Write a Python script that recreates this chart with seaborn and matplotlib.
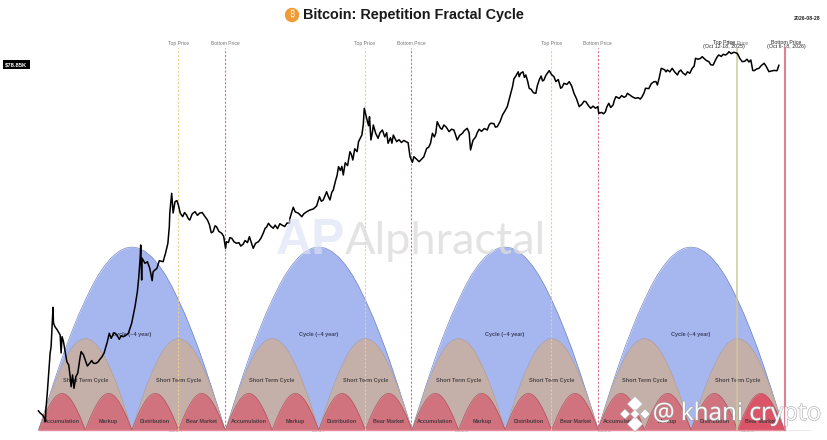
import numpy as np
import pandas as pd
import matplotlib.pyplot as plt
import matplotlib.patheffects as pe
import seaborn as sns

years = [2011.11,2011.15,2011.20,2011.24,2011.26,2011.27,2011.30,2011.34,2011.36,2011.38,2011.40,2011.42,2011.43,2011.46,2011.51,2011.57,2011.59,2011.61,2011.64,2011.68,
 2011.71,2011.75,2011.78,2011.80,2011.83,2011.86,2011.90,2011.94,2011.99,2012.01,2012.06,2012.11,2012.14,2012.20,2012.27,2012.37,2012.44,2012.49,2012.53,2012.56,
 2012.60,2012.64,2012.70,2012.76,2012.81,2012.89,2013.00,2013.07,2013.14,2013.19,2013.22,2013.25,2013.26,2013.28,2013.29,2013.35,2013.40,2013.45,2013.50,2013.52,
 2013.60,2013.65,2013.73,2013.78,2013.83,2013.86,2013.87,2013.91,2013.94,2013.98,2014.05,2014.14,2014.22,2014.29,2014.40,2014.50,2014.61,2014.66,2014.78,2014.85,
 2014.96,2015.04,2015.06,2015.17,2015.27,2015.41,2015.54,2015.62,2015.73,2015.83,2015.87,2015.94,2016.04,2016.22,2016.38,2016.39,2016.46,2016.57,2016.64,2016.81,
 2016.95,2017.01,2017.09,2017.16,2017.23,2017.30,2017.41,2017.51,2017.65,2017.71,2017.83,2017.90,2017.95,2018.00,2018.09,2018.14,2018.24,2018.33,2018.45,2018.56,
 2018.63,2018.87,2018.91,2018.96,2018.99,2019.10,2019.20,2019.26,2019.34,2019.38,2019.45,2019.48,2019.55,2019.62,2019.73,2019.83,2019.90,2020.01,2020.11,2020.18,
 2020.29,2020.36,2020.53,2020.60,2020.74,2020.85,2020.95,2021.06,2021.13,2021.23,2021.34,2021.41,2021.55,2021.62,2021.72,2021.83,2021.93,2022.07,2022.14,2022.25,
 2022.35,2022.46,2022.60,2022.70,2022.85,2022.87,2023.01,2023.08,2023.17,2023.23,2023.40,2023.47,2023.64,2023.78,2023.85,2024.03,2024.10,2024.18,2024.31,2024.41,
 2024.52,2024.59,2024.69,2024.83,2024.90,2025.04,2025.18,2025.27,2025.39,2025.53,2025.60,2025.74,2025.88,2026.06,2026.13,2026.23,2026.34,2026.44,2026.61,2026.65]
log_price = [-0.041,-0.074,-0.103,-0.145,-0.198,-0.031,0.212,0.587,0.783,0.873,1.159,1.436,1.212,1.159,1.112,1.040,0.783,1.016,0.944,0.783,
 0.659,0.612,0.445,0.302,0.469,0.279,0.445,0.497,0.730,0.802,0.755,0.659,0.597,0.645,0.636,0.659,0.722,0.779,0.873,0.944,
 1.064,0.993,1.073,1.040,0.979,1.016,1.064,1.207,1.445,1.659,1.873,2.159,2.326,1.826,2.136,2.064,2.087,1.993,1.816,1.945,
 1.993,2.102,2.087,2.207,2.350,2.587,2.783,3.064,2.783,2.945,2.897,2.730,2.755,2.683,2.802,2.783,2.730,2.683,2.516,2.587,
 2.493,2.279,2.373,2.422,2.350,2.340,2.445,2.279,2.373,2.493,2.565,2.636,2.565,2.612,2.636,2.707,2.865,2.779,2.730,2.826,
 2.883,3.016,2.969,3.087,2.969,3.112,3.445,3.326,3.659,3.540,3.802,3.897,4.279,4.136,3.826,4.040,3.850,3.969,3.779,3.897,
 3.802,3.787,3.587,3.507,3.587,3.516,3.587,3.707,3.779,3.922,3.922,4.087,3.993,4.040,3.945,3.969,3.826,3.922,3.993,3.683,
 3.873,3.979,3.969,4.065,4.016,4.183,4.302,4.587,4.740,4.779,4.755,4.565,4.493,4.683,4.683,4.816,4.730,4.565,4.636,4.659,
 4.493,4.302,4.373,4.279,4.302,4.207,4.230,4.350,4.326,4.445,4.436,4.493,4.422,4.445,4.565,4.659,4.612,4.850,4.826,4.850,
 4.755,4.826,4.755,4.850,4.993,5.016,4.945,4.897,5.040,5.040,5.087,5.073,4.945,4.969,4.816,4.850,4.922,4.802,4.816,4.897]

# smaller wiggles between the main turning points
wiggle_points = [(2012.23,.675),(2012.32,.635),(2012.40,.69),(2012.85,1.03),(2012.94,1.03),
 (2014.02,2.96),(2014.09,2.78),(2014.18,2.79),(2014.26,2.70),(2014.34,2.77),(2014.45,2.75),(2014.55,2.79),(2014.70,2.62),(2014.74,2.50),(2014.82,2.60),(2014.90,2.52),(2015.00,2.45),
 (2015.10,2.36),(2015.13,2.43),(2015.22,2.37),(2015.32,2.36),(2015.36,2.31),(2015.45,2.39),(2015.50,2.36),(2015.58,2.36),(2015.67,2.35),(2015.78,2.42),(2015.90,2.58),(2015.98,2.60),
 (2016.08,2.61),(2016.13,2.56),(2016.18,2.63),(2016.28,2.59),(2016.33,2.64),(2016.50,2.80),(2016.68,2.77),(2016.74,2.80),(2016.88,2.84),
 (2017.05,2.95),(2017.19,3.03),(2017.27,3.08),(2017.35,3.25),(2017.38,3.32),(2017.45,3.39),(2017.48,3.45),(2017.55,3.50),(2017.60,3.46),(2017.68,3.62),(2017.75,3.70),(2017.80,3.66),(2017.93,4.05),
 (2018.04,4.03),(2018.06,4.16),(2018.12,3.93),(2018.19,3.92),(2018.28,3.93),(2018.38,3.87),(2018.42,3.93),(2018.50,3.86),(2018.53,3.78),(2018.60,3.84),(2018.68,3.83),(2018.73,3.79),(2018.78,3.82),(2018.83,3.80),
 (2019.05,3.55),(2019.15,3.55),(2019.30,3.72),(2019.42,3.87),(2019.52,4.03),(2019.58,3.98),(2019.67,4.01),(2019.78,3.98),(2019.86,3.91),(2019.95,3.89),
 (2020.05,3.96),(2020.15,3.93),(2020.23,3.82),(2020.32,3.93),(2020.41,3.95),(2020.47,3.99),(2020.57,4.04),(2020.67,4.06),(2020.70,4.01),(2020.80,4.09),(2020.90,4.24),
 (2021.00,4.43),(2021.09,4.70),(2021.18,4.80),(2021.20,4.73),(2021.28,4.80),(2021.31,4.72),(2021.38,4.66),(2021.45,4.55),(2021.50,4.50),(2021.58,4.60),(2021.66,4.74),(2021.69,4.67),(2021.76,4.75),(2021.88,4.76),(2021.97,4.66),
 (2022.02,4.69),(2022.10,4.58),(2022.20,4.62),(2022.30,4.60),(2022.40,4.42),(2022.52,4.34),(2022.56,4.38),(2022.65,4.32),(2022.75,4.31),(2022.80,4.28),(2022.93,4.22),(2022.97,4.20),
 (2023.04,4.30),(2023.12,4.29),(2023.20,4.40),(2023.30,4.42),(2023.35,4.46),(2023.44,4.45),(2023.52,4.47),(2023.58,4.44),(2023.70,4.43),(2023.74,4.41),(2023.82,4.50),(2023.92,4.56),(2023.97,4.63),
 (2024.07,4.66),(2024.14,4.72),(2024.25,4.83),(2024.28,4.80),(2024.36,4.80),(2024.46,4.80),(2024.55,4.80),(2024.64,4.78),(2024.73,4.80),(2024.78,4.78),(2024.87,4.88),(2024.95,4.98),
 (2025.00,4.99),(2025.08,4.99),(2025.13,4.96),(2025.22,4.90),(2025.32,4.97),(2025.36,5.02),(2025.44,5.02),(2025.48,5.05),(2025.57,5.06),(2025.65,5.06),(2025.70,5.08),(2025.78,5.06),(2025.83,4.99),(2025.93,4.95),(2025.98,4.98),
 (2026.02,4.94),(2026.10,4.82),(2026.18,4.84),(2026.28,4.89),(2026.38,4.88),(2026.41,4.84),(2026.48,4.81),(2026.55,4.82)]

cycle_starts = [2011.12, 2015.04, 2018.95, 2022.85]
cycle_length = 3.91
top_years = [2014.05, 2017.96, 2021.87, 2025.78]
bottom_years = [2015.03, 2018.94, 2022.85, 2026.78]
phase_names = ['Accumulation', 'Markup', 'Distribution', 'Bear Market']
year_ticks = [2014, 2017, 2020, 2023, 2026]

arch_half = [0, .115, .23, .34, .445, .54, .63, .71, .785, .85, .903, .945, .975, .994, 1]
arch_shape = np.array(arch_half + arch_half[-2::-1])
arch_t = np.linspace(0, 1, len(arch_shape))

sns.set_theme(style='white')
plt.rcParams['font.family'] = ['Liberation Sans', 'DejaVu Sans']

fig = plt.figure(figsize=(8.28, 4.40), dpi=100)
ax = fig.add_axes([0, 0, 1, 1])
ax.set_xlim(2010.308, 2027.679)
ax.set_ylim(-0.0546, 2.35)


def arch(start, length, height, color, edge):
    x = start + arch_t * length
    ax.fill_between(x, 0, arch_shape * height, color=color, lw=0, zorder=2)
    ax.plot(x, arch_shape * height, color=edge, lw=0.5, zorder=2)


for c, start in enumerate(cycle_starts):
    q = cycle_length / 4
    arch(start, cycle_length, 1.0, '#A6B7EF', '#7485C4')
    arch(start, 2 * q, 0.5, '#C4AFA9', '#B39F98')
    arch(start + 2 * q, 2 * q, 0.5, '#C4AFA9', '#B39F98')
    for i, name in enumerate(phase_names):
        last = c == 3 and i == 3
        arch(start + i * q, q, 0.2, '#DB5468' if last else '#D0737F', '#B4505F')
        ax.text(start + (i + .5) * q, 0.049, name, ha='center', va='center', fontsize=3.9,
                fontweight='bold', color='#4a3a3e', zorder=3)
    ax.text(start + q, 0.273, 'Short Term Cycle', ha='center', va='center', fontsize=4,
            fontweight='bold', color='#4f4a4a', zorder=3)
    ax.text(start + 3 * q, 0.273, 'Short Term Cycle', ha='center', va='center', fontsize=4,
            fontweight='bold', color='#4f4a4a', zorder=3)
    ax.text(start + 2 * q, 0.523, 'Cycle (~4 year)', ha='center', va='center', fontsize=4,
            fontweight='bold', color='#3d4160', zorder=3)

ax.plot([cycle_starts[0], bottom_years[-1]], [0, 0], color='#E58C9C', lw=1.0, zorder=3)
ax.plot([bottom_years[-1], 2027.3], [0, 0], color='#e6e6e6', lw=0.6, zorder=1)

for i, (t, b) in enumerate(zip(top_years, bottom_years)):
    if i < 3:
        ax.plot([t, t], [0, 2.09], color='#E9CE8C', lw=0.8, ls=(0, (2, 1.5)), zorder=4)
        ax.plot([b, b], [0, 2.09], color='#D9708A', lw=0.8, ls=(0, (2, 1.5)), zorder=4)
    else:
        ax.plot([t, t], [0, 2.09], color='#CFC69E', lw=1.1, zorder=4)
        ax.plot([b, b], [0, 2.09], color='#E27F90', lw=1.5, zorder=4)
    ax.text(t, 2.115, 'Top Price', ha='center', va='center', fontsize=3.6, color='#777777')
    if i < 3:
        ax.text(b, 2.115, 'Bottom Price', ha='center', va='center', fontsize=3.6, color='#777777')

ax.text(2025.49, 2.108, 'Top Price\n(Oct 12-18, 2025)', ha='center', va='center', fontsize=3.8,
        color='#222222', linespacing=0.85)
ax.text(2026.80, 2.108, 'Bottom Price\n(Oct 6-18, 2026)', ha='center', va='center', fontsize=3.8,
        color='#222222', linespacing=0.85)

ax.set_xticks(year_ticks)
ax.set_xticklabels(year_ticks, fontsize=4.6, color='#b5b5b5')
ax.tick_params(axis='x', length=0, pad=-8.5)
ax.set_yticks([])
sns.despine(ax=ax, left=True, bottom=True)

# price goes on its own log axis, above the arches
price_ax = ax.twinx()
price_ax.set_yscale('log')
price_df = pd.DataFrame({'year': years, 'log_price': log_price})
wiggle_df = pd.DataFrame(wiggle_points, columns=['year', 'log_price'])
price_df = pd.concat([price_df, wiggle_df]).sort_values('year', kind='stable')
price_df['price'] = 10 ** price_df['log_price']
sns.lineplot(data=price_df, x='year', y='price', color='black', lw=1.1, sort=False,
             estimator=None, ax=price_ax, zorder=6)
price_ax.set_ylim(10 ** -0.46, 10 ** 5.826)
price_ax.set_xlabel('')
price_ax.set_ylabel('')
price_ax.set_yticks([])
price_ax.minorticks_off()
price_ax.patch.set_visible(False)
sns.despine(ax=price_ax, left=True, bottom=True, right=True)

# overlay items in figure pixels
W, H = 828, 440
fig.text(303 / W, 1 - 15.5 / H, 'Bitcoin: Repetition Fractal Cycle', fontsize=10.4, fontweight='bold',
         color='#1a1a1a', va='center', ha='left')
fig.text(292 / W, 1 - 15 / H, '\u20bf', fontsize=6.5, color='#fbe6c8', fontweight='bold', ha='center', va='center',
         family=['Noto Sans', 'Roboto', 'Inter', 'Open Sans', 'Lato', 'Liberation Sans'], zorder=5,
         bbox=dict(boxstyle='circle,pad=0.3', fc='#EE9A36', ec='none'))
fig.text(807 / W, 1 - 18 / H, '2026-08-28', fontsize=3.7, fontweight='bold', color='#222222', ha='center', va='center')
fig.text(16.5 / W, 1 - 64.5 / H, '$78.85K', fontsize=4.2, fontweight='bold', color='white', ha='center', va='center',
         bbox=dict(boxstyle='square,pad=0.35', fc='black', ec='none'))

fig.text(345 / W, 1 - 241 / H, 'Alphractal', fontsize=32.5, color='#dcdcdc', family=['Lato', 'DejaVu Sans'],
         ha='left', va='center', alpha=0.8, zorder=5)
fig.text(311 / W, 1 - 241 / H, 'AP', fontsize=36, fontweight='bold', color='#DDE2F5', ha='center', va='center',
         alpha=0.65, zorder=5)

fig.text(737 / W, 1 - 414 / H, '@ khani crypto', fontsize=17.5, color='white', ha='center', va='center',
         family=['Open Sans', 'DejaVu Sans'], zorder=8, alpha=0.9,
         path_effects=[pe.withStroke(linewidth=0.8, foreground='#a5a5a5')])
logo = fig.add_axes([0, 0, 1, 1], facecolor='none')
logo.set_xlim(0, W)
logo.set_ylim(H, 0)
logo.axis('off')
logo.scatter([635, 625, 645, 635, 635], [404, 414, 414, 424, 414], marker='D', s=[62, 26, 26, 62, 22],
             color='white', edgecolors='#aaaaaa', linewidths=0.4, zorder=9)

fig.savefig('out.png', dpi=100)
